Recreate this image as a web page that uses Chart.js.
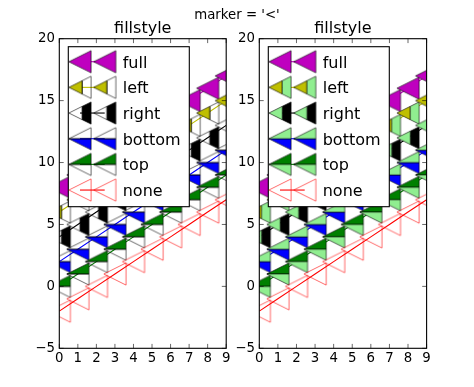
<!DOCTYPE html>
<html><head><meta charset="utf-8">
<script src="https://cdn.jsdelivr.net/npm/chart.js@4/dist/chart.umd.min.js"></script>
<style>
html,body{margin:0;padding:0;background:#fff;}
#wrap{position:relative;width:474px;height:387px;background:#fff;}
canvas{position:absolute;left:0;top:0;}
</style></head><body>
<div id="wrap"><canvas id="c1" width="474" height="387"></canvas><canvas id="c2" width="474" height="387"></canvas></div>
<script>
// ---- data ----
const xValues = [0, 1, 2, 3, 4, 5, 6, 7, 8, 9];
const fillStyles = ['full', 'left', 'right', 'bottom', 'top', 'none'];
const seriesColors = ['#bf00bf', '#bfbf00', '#000000', '#0000ff', '#008000', '#ff0000'];
const yFull   = [8, 9, 10, 11, 12, 13, 14, 15, 16, 17];
const yLeft   = [6, 7, 8, 9, 10, 11, 12, 13, 14, 15];
const yRight  = [4, 5, 6, 7, 8, 9, 10, 11, 12, 13];
const yBottom = [2, 3, 4, 5, 6, 7, 8, 9, 10, 11];
const yTop    = [0, 1, 2, 3, 4, 5, 6, 7, 8, 9];
const yNone   = [-2, -1, 0, 1, 2, 3, 4, 5, 6, 7];
const xTicks = [0, 1, 2, 3, 4, 5, 6, 7, 8, 9];
const yTicks = [-5, 0, 5, 10, 15, 20];
const panelTitles = ['fillstyle', 'fillstyle'];
const figureTitle = "marker = '<'";
const altColors = [null, '#90ee90'];
const seriesValues = [yFull, yLeft, yRight, yBottom, yTop, yNone];

Chart.defaults.font.family = 'DejaVu Sans';
Chart.defaults.color = '#000';

const MS = 11.1;
function makeMarker(style, color, alt) {
  const S = 26, c = S / 2;
  const cv = document.createElement('canvas');
  cv.width = S; cv.height = S;
  const g = cv.getContext('2d');
  g.lineWidth = 0.6;
  g.lineJoin = 'miter';
  const tip = [c - MS, c], tr = [c + MS, c - MS], br = [c + MS, c + MS];
  const mt = [c + MS / 5, c - 3 * MS / 5], mb = [c + MS / 5, c + 3 * MS / 5], rm = [c + MS, c];
  const poly = (pts, fill, stroke) => {
    g.beginPath();
    g.moveTo(pts[0][0], pts[0][1]);
    for (let i = 1; i < pts.length; i++) g.lineTo(pts[i][0], pts[i][1]);
    g.closePath();
    if (fill) { g.fillStyle = fill; g.fill(); }
    g.strokeStyle = stroke; g.stroke();
  };
  const P = {
    left: [tip, mt, mb], right: [mt, tr, br, mb],
    top: [tip, tr, rm], bottom: [tip, rm, br]
  };
  const opp = { left: 'right', right: 'left', top: 'bottom', bottom: 'top' };
  if (style === 'full') poly([tip, tr, br], color, '#000');
  else if (style === 'none') poly([tip, tr, br], null, color);
  else {
    poly(P[style], color, '#000');
    poly(P[opp[style]], alt, '#000');
  }
  return cv;
}

const fmt = v => String(v).replace('-', '\u2212');

const decor = {
  id: 'decor',
  afterDatasetsDraw(chart, args, opts) {
    const { ctx, chartArea: a, scales: { x, y } } = chart;
    ctx.save();
    ctx.strokeStyle = '#000';
    ctx.lineWidth = 0.6;
    const TL = 4.4;
    const seg = (x1, y1, x2, y2) => { ctx.beginPath(); ctx.moveTo(x1, y1); ctx.lineTo(x2, y2); ctx.stroke(); };
    x.ticks.forEach(t => {
      const px = x.getPixelForValue(t.value);
      seg(px, a.bottom, px, a.bottom - TL);
      seg(px, a.top, px, a.top + TL);
    });
    y.ticks.forEach(t => {
      const py = y.getPixelForValue(t.value);
      seg(a.left, py, a.left + TL, py);
      seg(a.right, py, a.right - TL, py);
    });
    ctx.lineWidth = 1.1;
    ctx.strokeRect(a.left, a.top, a.right - a.left, a.bottom - a.top);

    // legend
    const bx = a.left + 9, by = a.top + 8, bw = 121, bh = 160;
    ctx.fillStyle = '#fff';
    ctx.fillRect(bx, by, bw, bh);
    ctx.lineWidth = 1.1;
    ctx.strokeStyle = '#000';
    ctx.strokeRect(bx, by, bw, bh);
    const m1 = a.left + 20.7, m2 = a.left + 45.4, tx = a.left + 63.4;
    ctx.font = '16px "DejaVu Sans"';
    ctx.textAlign = 'left';
    ctx.textBaseline = 'alphabetic';
    chart.data.datasets.forEach((ds, k) => {
      const ry = a.top + 23 + k * 25.67;
      ctx.strokeStyle = ds.borderColor;
      ctx.lineWidth = ds.borderWidth;
      seg(m1, ry, m2, ry);
      const img = ds.pointStyle;
      ctx.drawImage(img, m1 - img.width / 2, ry - img.height / 2);
      ctx.drawImage(img, m2 - img.width / 2, ry - img.height / 2);
      ctx.fillStyle = '#000';
      ctx.fillText(ds.label, tx, ry + 5.8);
    });
    ctx.textAlign = 'center';
    ctx.font = '16px "DejaVu Sans"';
    ctx.fillText(opts.title, (a.left + a.right) / 2, a.top - 5.6);
    if (opts.suptitle) {
      ctx.font = '13.3px "DejaVu Sans"';
      ctx.fillText(opts.suptitle, 237, 19.4);
    }
    ctx.restore();
  }
};

function makeChart(id, panel, padL, padR) {
  const alt = altColors[panel];
  const datasets = seriesValues.map((vals, i) => ({
    label: fillStyles[i],
    data: xValues.map((xv, j) => ({ x: xv, y: vals[j] })),
    borderColor: seriesColors[i],
    backgroundColor: seriesColors[i],
    borderWidth: 1.1,
    pointStyle: makeMarker(fillStyles[i], seriesColors[i], alt),
    pointRadius: 11,
    pointHoverRadius: 11,
    tension: 0,
    clip: 0,
    order: fillStyles.length - 1 - i
  }));
  return new Chart(document.getElementById(id), {
    type: 'line',
    data: { datasets },
    plugins: [decor],
    options: {
      responsive: false,
      animation: false,
      events: [],
      devicePixelRatio: 1,
      layout: { padding: { left: padL, right: padR, top: 38.7, bottom: 0 } },
      plugins: {
        legend: { display: false },
        tooltip: { enabled: false },
        decor: { title: panelTitles[panel], suptitle: panel === 0 ? figureTitle : null }
      },
      scales: {
        x: {
          type: 'linear', min: 0, max: 9,
          afterBuildTicks: s => { s.ticks = xTicks.map(v => ({ value: v })); },
          afterFit: s => { s.height = 38.7; },
          grid: { display: false, drawTicks: false },
          border: { display: false },
          ticks: { color: '#000', font: { size: 13.3 }, padding: 2, maxRotation: 0, autoSkip: false, callback: v => fmt(v) }
        },
        y: {
          type: 'linear', min: -5, max: 20,
          afterBuildTicks: s => { s.ticks = yTicks.map(v => ({ value: v })); },
          afterFit: s => { s.width = 59.3; },
          grid: { display: false, drawTicks: false },
          border: { display: false },
          ticks: { color: '#000', font: { size: 13.3 }, padding: 4.4, autoSkip: false, callback: v => fmt(v) }
        }
      }
    }
  });
}

makeChart('c1', 0, 0, 247.8);
makeChart('c2', 1, 200, 47.4);
</script>
</body></html>
